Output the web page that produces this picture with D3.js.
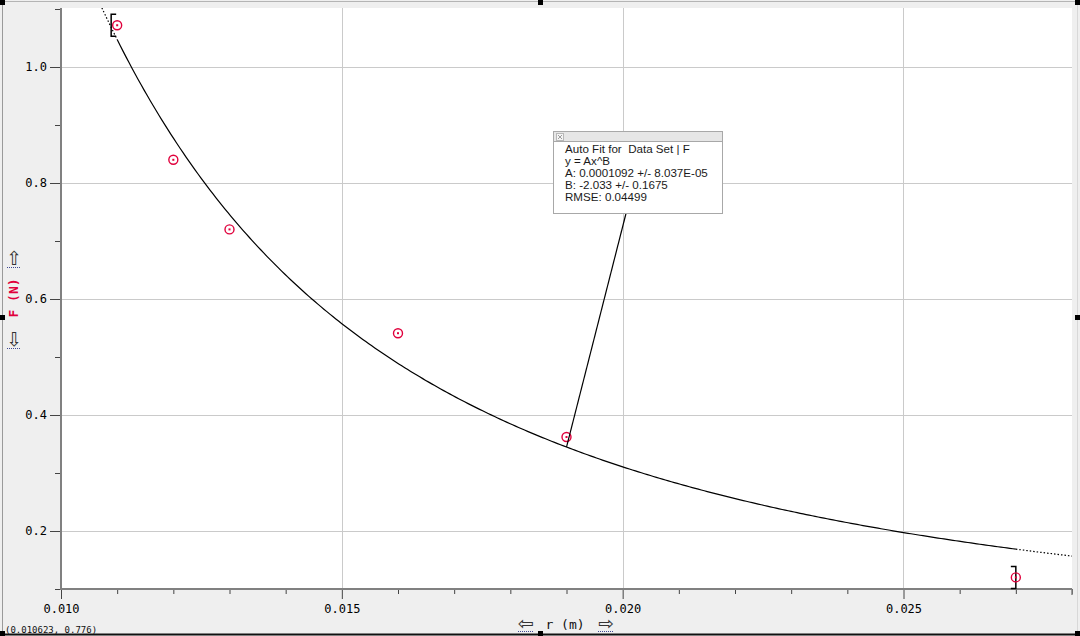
<!DOCTYPE html>
<html>
<head>
<meta charset="utf-8">
<script src="https://cdn.jsdelivr.net/npm/d3@7"></script>
<style>
  body { margin: 0; background: #efefef; }
  svg { display: block; }
</style>
</head>
<body>
<div id="chart"></div>
<script>
// Force vs radius scatter with power-law auto fit (y = Ax^B)

// ---------------- data ----------------
var radius = [0.011, 0.012, 0.013, 0.016, 0.019, 0.027];   // r (m)
var force  = [1.072, 0.840, 0.720, 0.541, 0.362, 0.120];   // F (N)

var xMajorTicks = [0.010, 0.015, 0.020, 0.025];
var yMajorTicks = [0.2, 0.4, 0.6, 0.8, 1.0];
var xMinorTicks = [0.011, 0.012, 0.013, 0.014, 0.016, 0.017, 0.018, 0.019,
                   0.021, 0.022, 0.023, 0.024, 0.026, 0.027, 0.028];
var yMinorTicks = [0.1, 0.3, 0.5, 0.7, 0.9, 1.1];

// fit parameters as shown in the box
var fitA = 0.0001092;
var fitB = -2.033;
var fitLines = ["Auto Fit for  Data Set | F",
                "y = Ax^B",
                "A: 0.0001092 +/- 8.037E-05",
                "B: -2.033 +/- 0.1675",
                "RMSE: 0.04499"];
var leaderX = 0.019;          // fit point the box is attached to
var cursorText = "(0.010623, 0.776)";

// ---------------- layout ----------------
var svgWidth = 1080, svgHeight = 636;
var plot = { left: 61, right: 1072, top: 8, bottom: 589 };
var red = "#e0003c";
var mono = "'DejaVu Sans Mono', monospace";

var svg = d3.select("#chart").append("svg")
  .attr("width", svgWidth)
  .attr("height", svgHeight);

// window frame
svg.append("rect").attr("width", svgWidth).attr("height", svgHeight).attr("fill", "#efefef");
svg.append("line").attr("x1", 0).attr("x2", svgWidth).attr("y1", 1.5).attr("y2", 1.5)
  .attr("stroke", "#b4b4b4").attr("stroke-width", 1);
svg.append("line").attr("x1", 2.5).attr("x2", 2.5).attr("y1", 0).attr("y2", svgHeight)
  .attr("stroke", "#9a9a9a").attr("stroke-width", 1);
svg.append("line").attr("x1", 1077.5).attr("x2", 1077.5).attr("y1", 0).attr("y2", svgHeight)
  .attr("stroke", "#d8d8d8").attr("stroke-width", 1);
svg.append("line").attr("x1", 0).attr("x2", svgWidth).attr("y1", 634.5).attr("y2", 634.5)
  .attr("stroke", "#111").attr("stroke-width", 2);

// plot background
svg.append("rect")
  .attr("x", plot.left).attr("y", plot.top)
  .attr("width", plot.right - plot.left).attr("height", plot.bottom - plot.top)
  .attr("fill", "#fff");

// scales
var x = d3.scaleLinear().domain([0.010, 0.028]).range([plot.left, plot.right]);
var y = d3.scaleLinear().domain([0.1, 1.1]).range([plot.bottom, plot.bottom - 580]);

// grid lines (major ticks only)
svg.append("g").selectAll("line").data(xMajorTicks.slice(1)).enter().append("line")
  .attr("x1", d => Math.round(x(d)) + 0.5).attr("x2", d => Math.round(x(d)) + 0.5)
  .attr("y1", plot.top).attr("y2", plot.bottom)
  .attr("stroke", "#cacaca");
svg.append("g").selectAll("line").data(yMajorTicks).enter().append("line")
  .attr("x1", plot.left).attr("x2", plot.right)
  .attr("y1", d => Math.round(y(d)) + 0.5).attr("y2", d => Math.round(y(d)) + 0.5)
  .attr("stroke", "#cacaca");

// axes - minor ticks first, then major with labels
function styleAxis(g) {
  g.select(".domain").remove();
  g.selectAll(".tick line").attr("stroke", "#444");
  g.selectAll(".tick text").attr("font-family", mono).attr("font-size", "12px").attr("fill", "#000");
}
svg.append("g").attr("transform", `translate(0,${plot.bottom})`)
  .call(d3.axisBottom(x).tickValues(xMinorTicks).tickSize(5).tickFormat(""))
  .call(styleAxis);
svg.append("g").attr("transform", `translate(0,${plot.bottom})`)
  .call(d3.axisBottom(x).tickValues(xMajorTicks).tickSize(10).tickPadding(5).tickFormat(d3.format(".3f")))
  .call(styleAxis);
svg.append("g").attr("transform", `translate(${plot.left},0)`)
  .call(d3.axisLeft(y).tickValues(yMinorTicks).tickSize(6).tickFormat(""))
  .call(styleAxis);
svg.append("g").attr("transform", `translate(${plot.left},0)`)
  .call(d3.axisLeft(y).tickValues(yMajorTicks).tickSize(11).tickPadding(3).tickFormat(d3.format(".1f")))
  .call(styleAxis);

// axis lines
svg.append("line").attr("x1", plot.left).attr("x2", plot.left).attr("y1", plot.top).attr("y2", plot.bottom + 1)
  .attr("stroke", "#808080").attr("stroke-width", 2);
svg.append("line").attr("x1", plot.left - 1).attr("x2", plot.right).attr("y1", plot.bottom).attr("y2", plot.bottom)
  .attr("stroke", "#808080").attr("stroke-width", 2);
svg.append("line").attr("x1", plot.right).attr("x2", plot.right).attr("y1", plot.bottom).attr("y2", plot.bottom + 6)
  .attr("stroke", "#808080").attr("stroke-width", 1.5);

// axis labels with the little arrow buttons
svg.append("text").attr("x", 565).attr("y", 629).attr("text-anchor", "middle")
  .attr("font-family", mono).attr("font-size", "13px").attr("fill", "#111").text("r (m)");
[[526, "\u21E6"], [606, "\u21E8"]].forEach(function(a) {
  svg.append("text").attr("x", a[0]).attr("y", 630).attr("text-anchor", "middle")
    .attr("font-family", "'DejaVu Sans'").attr("font-size", "19px").attr("fill", "#333").text(a[1]);
  svg.append("line").attr("x1", a[0] - 8).attr("x2", a[0] + 8).attr("y1", 631.5).attr("y2", 631.5)
    .attr("stroke", "#404890").attr("stroke-dasharray", "1,1");
});
svg.append("text").attr("transform", "translate(18,298) rotate(-90)").attr("text-anchor", "middle")
  .attr("font-family", mono).attr("font-size", "13px").attr("font-weight", "bold").attr("fill", red).text("F (N)");
[[258, "\u21E7"], [339, "\u21E9"]].forEach(function(a) {
  svg.append("text").attr("x", 14).attr("y", a[0] + 7).attr("text-anchor", "middle")
    .attr("font-family", "'DejaVu Sans'").attr("font-size", "19px").attr("fill", "#333").text(a[1]);
  svg.append("line").attr("x1", 7).attr("x2", 21).attr("y1", a[0] + 9.5).attr("y2", a[0] + 9.5)
    .attr("stroke", "#404890").attr("stroke-dasharray", "1,1");
});

// ---------------- fit curve ----------------
svg.append("clipPath").attr("id", "plotClip").append("rect")
  .attr("x", plot.left).attr("y", plot.top)
  .attr("width", plot.right - plot.left).attr("height", plot.bottom - plot.top);

var fitF = r => fitA * Math.pow(r, fitB);
var line = d3.line().x(d => x(d)).y(d => y(fitF(d)));
var rMin = d3.min(radius), rMax = d3.max(radius);
var inside = d3.range(rMin, rMax + 1e-9, (rMax - rMin) / 300);
var before = d3.range(0.0104, rMin + 1e-9, (rMin - 0.0104) / 20);
var after = d3.range(rMax, 0.028 + 1e-9, (0.028 - rMax) / 20);

var curveG = svg.append("g").attr("clip-path", "url(#plotClip)");
curveG.append("path").datum(inside).attr("d", line)
  .attr("fill", "none").attr("stroke", "#000").attr("stroke-width", 1.2);
[before, after].forEach(function(seg) {
  curveG.append("path").datum(seg).attr("d", line)
    .attr("fill", "none").attr("stroke", "#000").attr("stroke-width", 1.2)
    .attr("stroke-dasharray", "1.5,2");
});

// range brackets at the ends of the fitted range
var iMin = radius.indexOf(rMin), iMax = radius.indexOf(rMax);
function bracket(px, py, dir) {
  var h = 11;
  svg.append("path")
    .attr("d", `M${px + dir * 5},${py - h} H${px} V${py + h} H${px + dir * 5}`)
    .attr("fill", "none").attr("stroke", "#000").attr("stroke-width", 1.5);
}
bracket(x(rMin) - 6, y(force[iMin]), 1);
bracket(x(rMax), y(force[iMax]), -1);

// ---------------- data points ----------------
var pts = svg.append("g").selectAll("g").data(radius).enter().append("g")
  .attr("transform", (d, i) => `translate(${x(d)},${y(force[i])})`);
pts.append("circle").attr("r", 4.5).attr("fill", "none").attr("stroke", red).attr("stroke-width", 1.4);
pts.append("rect").attr("x", -1).attr("y", -1).attr("width", 2).attr("height", 2).attr("fill", red);

// ---------------- fit info box ----------------
var box = { x: 553.5, y: 131.5, w: 169, h: 82 };
svg.append("line")
  .attr("x1", x(leaderX)).attr("y1", y(fitF(leaderX)))
  .attr("x2", 626).attr("y2", box.y + box.h)
  .attr("stroke", "#000").attr("stroke-width", 1.2);
svg.append("rect").attr("x", box.x).attr("y", box.y).attr("width", box.w).attr("height", box.h)
  .attr("fill", "#fff").attr("stroke", "#a8a8a8");
svg.append("rect").attr("x", box.x).attr("y", box.y).attr("width", box.w).attr("height", 10)
  .attr("fill", "#e6e6e6").attr("stroke", "#a8a8a8");
svg.append("rect").attr("x", 556.5).attr("y", 133.5).attr("width", 7).attr("height", 7)
  .attr("fill", "#f4f4f4").attr("stroke", "#b8b8b8");
svg.append("path").attr("d", "M558,135 L562,139 M562,135 L558,139")
  .attr("stroke", "#888").attr("stroke-width", 0.8);
svg.append("g").selectAll("text").data(fitLines).enter().append("text")
  .attr("x", 565).attr("y", (d, i) => 153 + i * 12)
  .attr("font-family", "'Liberation Sans', Arial, sans-serif").attr("font-size", "11.6px")
  .attr("fill", "#1a1a1a")
  .style("white-space", "pre")
  .text(d => d);

// cursor readout
svg.append("text").attr("x", 5).attr("y", 633)
  .attr("font-family", mono).attr("font-size", "9px").attr("fill", "#111").text(cursorText);

// selection handles round the frame
var handles = [[0, 0], [538, 0], [1075, 0], [0, 315], [1075, 315], [0, 631], [538, 631], [1075, 631]];
svg.append("g").selectAll("rect").data(handles).enter().append("rect")
  .attr("x", d => d[0]).attr("y", d => d[1]).attr("width", 5).attr("height", 5).attr("fill", "#000");
</script>
</body>
</html>
